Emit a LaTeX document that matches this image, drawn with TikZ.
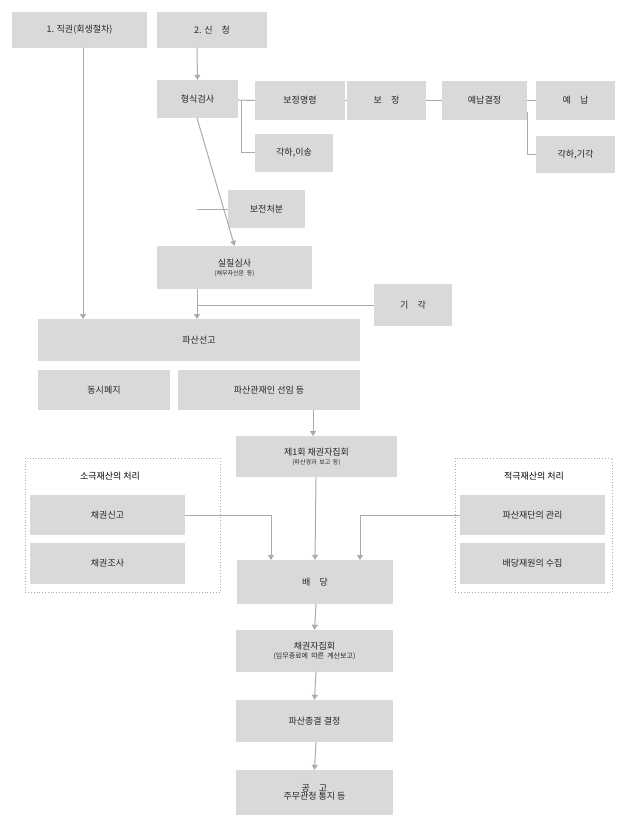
\documentclass[tikz,border=0pt]{standalone}
\usepackage{fontspec}
\setmainfont{Noto Sans CJK KR}
\usetikzlibrary{arrows.meta}
\definecolor{boxg}{HTML}{D9D9D9}
\definecolor{lineg}{HTML}{ABABAB}
\tikzset{
 bx/.style={fill=boxg,draw=none,inner sep=0pt,font=\fontsize{9}{11}\selectfont,align=center,text=black!85},
 ln/.style={draw=lineg,line width=1pt},
 ar/.style={ln,-{Triangle[length=5pt,width=6pt]}},
 dot/.style={draw=lineg,dotted,line width=0.8pt}
}
\newcommand{\bxat}[6]{\node[bx,minimum width=#4-#2,minimum height=#5-#3] (#1) at ({(#2+#4)/2},{(#3+#5)/2}) {#6};}
\begin{document}
\begin{tikzpicture}[x=1pt,y=-1pt]
\useasboundingbox (0,0) rectangle (632,821);
\draw[dot] (25,458) rectangle (220,592);
\draw[dot] (455,458) rectangle (612,592);
\node[font=\fontsize{9}{11}\selectfont] (t1) at (110,476) {소극재산의 처리};
\node[font=\fontsize{9}{11}\selectfont] (t2) at (534,476) {적극재산의 처리};
\bxat{a}{12}{12}{147}{48}{1. 직권(회생절차)}
\bxat{b}{157}{12}{267}{48}{2. 신\quad 청}
\bxat{c}{157}{80}{238}{118}{형식검사}
\bxat{d}{255}{81}{345}{120}{보정명령}
\bxat{e}{347}{81}{426}{120}{보\quad 정}
\bxat{f}{442}{81}{527}{120}{예납결정}
\bxat{g}{536}{81}{615}{120}{예\quad 납}
\bxat{h}{255}{134}{333}{172}{각하,이송}
\bxat{i}{536}{136}{615}{173}{각하,기각}
\bxat{j}{228}{190}{305}{228}{보전처분}
\bxat{k}{157}{246}{312}{289}{실질심사\\[-2pt]{\fontsize{6}{7}\selectfont (채무자신문\ \ 등)}}
\bxat{l}{374}{284}{452}{326}{기\quad 각}
\bxat{m}{38}{319}{360}{361}{파산선고}
\bxat{n}{38}{370}{170}{410}{동시폐지}
\bxat{o}{178}{370}{360}{410}{파산관재인 선임 등}
\bxat{p}{236}{436}{397}{477}{제1회 채권자집회\\[-2pt]{\fontsize{6}{7}\selectfont (파산경과\ \ 보고\ \ 등)}}
\bxat{q}{30}{495}{185}{535}{채권신고}
\bxat{r}{30}{543}{185}{584}{채권조사}
\bxat{s}{460}{495}{605}{535}{파산재단의 관리}
\bxat{t}{460}{543}{605}{584}{배당재원의 수집}
\bxat{u}{237}{560}{393}{604}{배\quad 당}
\bxat{v}{236}{630}{393}{672}{채권자집회\\[-2pt]{\fontsize{7}{8}\selectfont (임무종료에\ \ 따른\ \ 계산보고)}}
\bxat{w}{236}{700}{393}{742}{파산종결 결정}
\bxat{x}{236}{770}{393}{815}{공\quad 고\\[-3pt]주무관청 통지 등}
\draw[ar] (83,48) -- (83,319);
\draw[ar] (197,48) -- (c.north);
\draw[ar] (197,118) -- (k.north);
\draw[ln] (238,100) -- (d.west);
\draw[ln] (d.east) -- (e.west);
\draw[ln] (e.east) -- (f.west);
\draw[ln] (f.east) -- (g.west);
\draw[ln] (241,100) |- (h.west);
\draw[ln] (527,112) |- (i.west);
\draw[ln] (197,209) -- (j.west);
\draw[ar] (197,289) -- (197,319);
\draw[ln] (197,305) -- (l.west|-0,305);
\draw[ar] (313,410) -- (313,436);
\draw[ar] (316,477) -- (u.north);
\draw[ar] (q.east) -| (271,560);
\draw[ar] (s.west) -| (360,560);
\draw[ar] (316,604) -- (v.north);
\draw[ar] (316,672) -- (w.north);
\draw[ar] (316,742) -- (x.north);
\end{tikzpicture}
\end{document}
